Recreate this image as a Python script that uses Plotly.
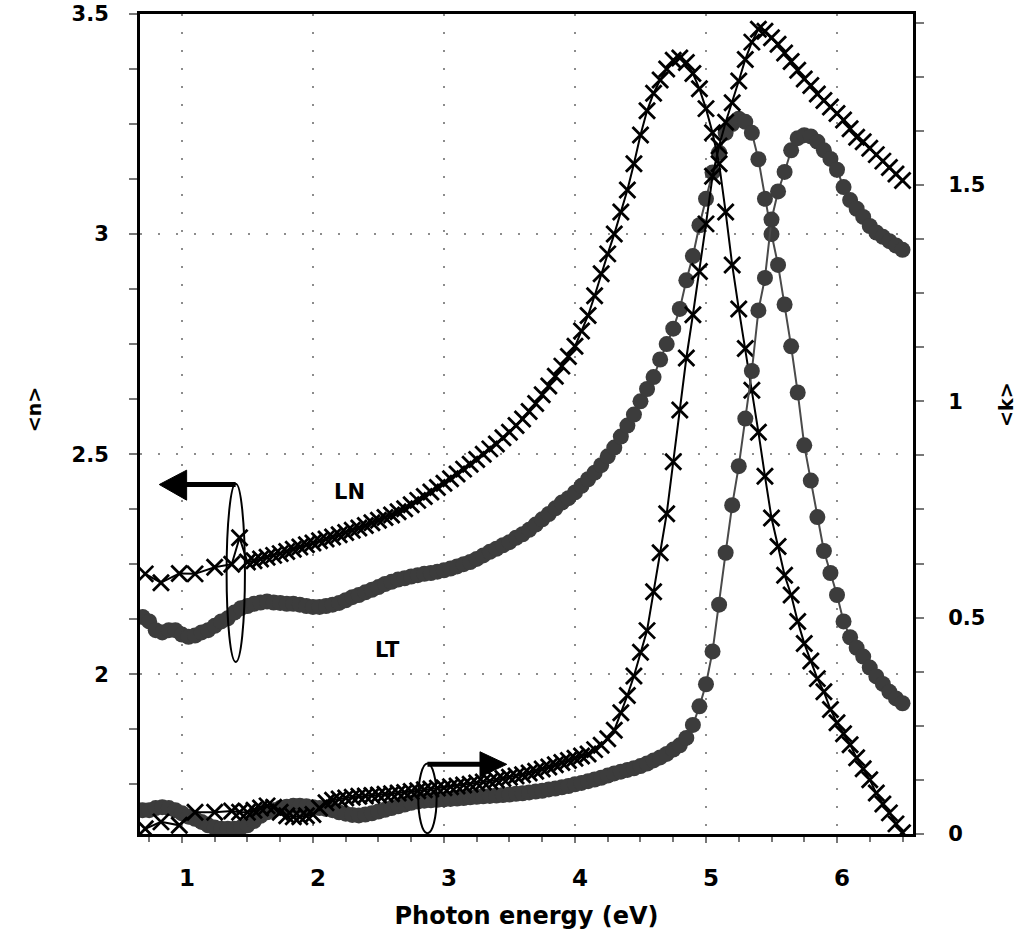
import plotly.graph_objects as go

# ---------------- data ----------------
# Photon energy grid for the LT film (eV)
E_LT = [0.70, 0.75, 0.80, 0.85, 0.90, 0.95, 1.00, 1.05, 1.10, 1.15,
        1.20, 1.25, 1.30, 1.35, 1.40, 1.45, 1.50, 1.55, 1.60, 1.65,
        1.70, 1.75, 1.80, 1.85, 1.90, 1.95, 2.00, 2.05, 2.10, 2.15,
        2.20, 2.25, 2.30, 2.35, 2.40, 2.45, 2.50, 2.55, 2.60, 2.65,
        2.70, 2.75, 2.80, 2.85, 2.90, 2.95, 3.00, 3.05, 3.10, 3.15,
        3.20, 3.25, 3.30, 3.35, 3.40, 3.45, 3.50, 3.55, 3.60, 3.65,
        3.70, 3.75, 3.80, 3.85, 3.90, 3.95, 4.00, 4.05, 4.10, 4.15,
        4.20, 4.25, 4.30, 4.35, 4.40, 4.45, 4.50, 4.55, 4.60, 4.65,
        4.70, 4.75, 4.80, 4.85, 4.90, 4.95, 5.00, 5.05, 5.10, 5.15,
        5.20, 5.25, 5.30, 5.35, 5.40, 5.45, 5.50, 5.55, 5.60, 5.65,
        5.70, 5.75, 5.80, 5.85, 5.90, 5.95, 6.00, 6.05, 6.10, 6.15,
        6.20, 6.25, 6.30, 6.35, 6.40, 6.45, 6.50]

n_LT = [2.130, 2.120, 2.100, 2.095, 2.100, 2.100, 2.090, 2.085, 2.088, 2.095,
        2.100, 2.110, 2.120, 2.127, 2.140, 2.150, 2.155, 2.160, 2.163, 2.165,
        2.163, 2.162, 2.160, 2.160, 2.158, 2.155, 2.153, 2.153, 2.155, 2.158,
        2.162, 2.168, 2.175, 2.180, 2.186, 2.192, 2.198, 2.205, 2.210, 2.215,
        2.218, 2.222, 2.225, 2.228, 2.230, 2.233, 2.236, 2.240, 2.245, 2.250,
        2.255, 2.262, 2.270, 2.278, 2.285, 2.293, 2.300, 2.310, 2.318, 2.328,
        2.340, 2.352, 2.364, 2.377, 2.390, 2.400, 2.413, 2.428, 2.443, 2.458,
        2.475, 2.495, 2.515, 2.540, 2.565, 2.590, 2.620, 2.648, 2.675, 2.715,
        2.750, 2.785, 2.830, 2.895, 2.950, 3.020, 3.080, 3.140, 3.185, 3.230,
        3.250, 3.262, 3.255, 3.230, 3.170, 3.080, 3.000, 2.930, 2.840, 2.745,
        2.640, 2.520, 2.440, 2.357, 2.280, 2.230, 2.180, 2.120, 2.084, 2.060,
        2.040, 2.015, 1.995, 1.978, 1.960, 1.945, 1.934]

k_LT = [0.055, 0.055, 0.060, 0.062, 0.060, 0.055, 0.048, 0.040, 0.035, 0.028,
        0.020, 0.015, 0.012, 0.012, 0.012, 0.015, 0.020, 0.030, 0.042, 0.050,
        0.055, 0.060, 0.063, 0.065, 0.065, 0.064, 0.062, 0.060, 0.058, 0.055,
        0.050, 0.047, 0.044, 0.043, 0.045, 0.048, 0.052, 0.056, 0.060, 0.064,
        0.068, 0.072, 0.075, 0.077, 0.078, 0.079, 0.080, 0.081, 0.082, 0.083,
        0.085, 0.086, 0.087, 0.088, 0.089, 0.090, 0.091, 0.093, 0.094, 0.096,
        0.098, 0.100, 0.103, 0.105, 0.108, 0.111, 0.115, 0.118, 0.122, 0.126,
        0.130, 0.135, 0.140, 0.144, 0.148, 0.152, 0.157, 0.163, 0.170, 0.177,
        0.185, 0.195, 0.205, 0.222, 0.252, 0.295, 0.346, 0.422, 0.530, 0.650,
        0.760, 0.850, 0.960, 1.070, 1.210, 1.285, 1.420, 1.485, 1.530, 1.580,
        1.608, 1.615, 1.612, 1.600, 1.580, 1.560, 1.535, 1.495, 1.465, 1.445,
        1.426, 1.405, 1.390, 1.380, 1.370, 1.360, 1.350]

# Photon energy grid for the LN film (eV)
E_LN = [0.72, 0.84, 0.98, 1.10, 1.25, 1.38, 1.44,
        1.50, 1.55, 1.60, 1.65, 1.70, 1.75, 1.80, 1.85, 1.90, 1.95,
        2.00, 2.05, 2.10, 2.15, 2.20, 2.25, 2.30, 2.35, 2.40, 2.45,
        2.50, 2.55, 2.60, 2.65, 2.70, 2.75, 2.80, 2.85, 2.90, 2.95,
        3.00, 3.05, 3.10, 3.15, 3.20, 3.25, 3.30, 3.35, 3.40, 3.45,
        3.50, 3.55, 3.60, 3.65, 3.70, 3.75, 3.80, 3.85, 3.90, 3.95,
        4.00, 4.05, 4.10, 4.15, 4.20, 4.25, 4.30, 4.35, 4.40, 4.45,
        4.50, 4.55, 4.60, 4.65, 4.70, 4.75, 4.80, 4.85, 4.90, 4.95,
        5.00, 5.05, 5.10, 5.15, 5.20, 5.25, 5.30, 5.35, 5.40, 5.45,
        5.50, 5.55, 5.60, 5.65, 5.70, 5.75, 5.80, 5.85, 5.90, 5.95,
        6.00, 6.05, 6.10, 6.15, 6.20, 6.25, 6.30, 6.35, 6.40, 6.45,
        6.50]

n_LN = [2.228, 2.208, 2.229, 2.228, 2.243, 2.250, 2.310,
        2.255, 2.258, 2.262, 2.266, 2.270, 2.274, 2.279, 2.284, 2.289, 2.294,
        2.298, 2.303, 2.307, 2.312, 2.317, 2.322, 2.327, 2.332, 2.338, 2.344,
        2.350, 2.356, 2.362, 2.369, 2.376, 2.385, 2.395, 2.404, 2.414, 2.424,
        2.434, 2.444, 2.455, 2.466, 2.477, 2.488, 2.500, 2.512, 2.523, 2.537,
        2.550, 2.565, 2.580, 2.597, 2.615, 2.635, 2.655, 2.677, 2.700, 2.722,
        2.745, 2.780, 2.815, 2.860, 2.910, 2.955, 3.000, 3.050, 3.100, 3.160,
        3.225, 3.280, 3.320, 3.350, 3.375, 3.395, 3.400, 3.390, 3.365, 3.330,
        3.285, 3.230, 3.160, 3.050, 2.930, 2.830, 2.740, 2.645, 2.550, 2.450,
        2.355, 2.290, 2.225, 2.180, 2.120, 2.070, 2.030, 1.990, 1.960, 1.920,
        1.890, 1.865, 1.840, 1.810, 1.785, 1.760, 1.730, 1.705, 1.685, 1.660,
        1.640]

k_LN = [0.012, 0.028, 0.020, 0.050, 0.050, 0.053, 0.050,
        0.050, 0.055, 0.060, 0.065, 0.062, 0.050, 0.042, 0.040, 0.040, 0.042,
        0.045, 0.060, 0.072, 0.078, 0.081, 0.083, 0.085, 0.087, 0.088, 0.089,
        0.090, 0.092, 0.093, 0.095, 0.096, 0.098, 0.100, 0.102, 0.104, 0.106,
        0.107, 0.109, 0.111, 0.113, 0.115, 0.118, 0.120, 0.122, 0.125, 0.128,
        0.131, 0.134, 0.137, 0.141, 0.145, 0.150, 0.155, 0.160, 0.165, 0.170,
        0.175, 0.180, 0.185, 0.195, 0.205, 0.220, 0.240, 0.280, 0.320, 0.365,
        0.420, 0.470, 0.560, 0.650, 0.740, 0.860, 0.980, 1.100, 1.200, 1.300,
        1.410, 1.520, 1.590, 1.645, 1.690, 1.740, 1.790, 1.830, 1.860, 1.855,
        1.840, 1.825, 1.805, 1.785, 1.765, 1.745, 1.730, 1.710, 1.695, 1.680,
        1.665, 1.650, 1.630, 1.610, 1.600, 1.585, 1.570, 1.555, 1.540, 1.525,
        1.510]

x_ticks = [1, 2, 3, 4, 5, 6]
n_ticks = [2, 2.5, 3, 3.5]
k_ticks = [0, 0.5, 1, 1.5]

# ---------------- styling ----------------
FONT = "DejaVu Sans"
DOT = "#3c3c3c"
GRID = "#8c8c8c"

fig = go.Figure()

fig.add_trace(go.Scatter(x=E_LT, y=n_LT, mode="lines+markers", yaxis="y",
                         line=dict(color="#4a4a4a", width=2),
                         marker=dict(symbol="circle", size=16, color=DOT, line=dict(width=0)),
                         name="LT <n>"))
fig.add_trace(go.Scatter(x=E_LT, y=k_LT, mode="lines+markers", yaxis="y2",
                         line=dict(color="#4a4a4a", width=2),
                         marker=dict(symbol="circle", size=16, color=DOT, line=dict(width=0)),
                         name="LT <k>"))
fig.add_trace(go.Scatter(x=E_LN, y=n_LN, mode="lines+markers", yaxis="y",
                         line=dict(color="black", width=2),
                         marker=dict(symbol="x-thin", size=16, color="black",
                                     line=dict(color="black", width=2.8)),
                         name="LN <n>"))
fig.add_trace(go.Scatter(x=E_LN, y=k_LN, mode="lines+markers", yaxis="y2",
                         line=dict(color="black", width=2),
                         marker=dict(symbol="x-thin", size=16, color="black",
                                     line=dict(color="black", width=2.8)),
                         name="LN <k>"))

tickfont_x = dict(family=FONT, size=23, color="black", weight="bold")
tickfont_y = dict(family=FONT, size=21, color="black", weight="bold")

fig.update_layout(
    width=1019, height=930,
    margin=dict(l=140, r=106, t=14, b=96, autoexpand=False),
    paper_bgcolor="white", plot_bgcolor="white",
    showlegend=False,
    xaxis=dict(range=[0.68, 6.58], tickvals=x_ticks, ticks="outside", ticklen=6,
               tickwidth=1.5, tickcolor="#777", tickfont=tickfont_x,
               ticklabelstandoff=15, ticklabelshift=5, automargin=False,
               showline=True, linewidth=3, linecolor="black", mirror=True,
               showgrid=True, gridcolor=GRID, gridwidth=2, griddash="2px,16px",
               zeroline=False,
               minor=dict(dtick=0.25, ticks="outside", ticklen=5, tickwidth=1.5,
                          tickcolor="#777", showgrid=False),
               title=dict(text="Photon energy (eV)",
                          font=dict(family=FONT, size=24, color="black", weight="bold"),
                          standoff=20)),
    yaxis=dict(range=[1.637, 3.5], tickvals=n_ticks, ticktext=["2", "2.5", "3", "3.5"],
               ticks="outside", ticklen=8, tickwidth=1.5, tickcolor="#777",
               tickfont=tickfont_y, ticklabelstandoff=16, automargin=False,
               showline=True, linewidth=3, linecolor="black",
               showgrid=True, gridcolor=GRID, gridwidth=2, griddash="2px,16px",
               zeroline=False,
               minor=dict(dtick=0.125, ticks="outside", ticklen=8, tickwidth=1.5,
                          tickcolor="#777", showgrid=False)),
    yaxis2=dict(range=[0, 1.895], tickvals=k_ticks, ticktext=["0", "0.5", "1", "1.5"],
                overlaying="y", side="right",
                ticks="outside", ticklen=8, tickwidth=1.5, tickcolor="#777",
                tickfont=tickfont_y, ticklabelstandoff=20, automargin=False,
                showline=True, linewidth=3, linecolor="black",
                showgrid=False, zeroline=False,
                minor=dict(dtick=0.125, ticks="outside", ticklen=8, tickwidth=1.5,
                           tickcolor="#777", showgrid=False)),
)

# axis titles and curve labels
lab = dict(family=FONT, size=21, color="black", weight="bold")
fig.add_annotation(text="&lt;n&gt;", xref="paper", yref="paper", x=-0.137, y=0.517,
                   xanchor="center", yanchor="middle",
                   textangle=-90, showarrow=False,
                   font=dict(family=FONT, size=19, color="black", weight="bold"))
fig.add_annotation(text="&lt;k&gt;", xref="paper", yref="paper", x=1.12, y=0.523,
                   xanchor="center", yanchor="middle",
                   textangle=-90, showarrow=False,
                   font=dict(family=FONT, size=19, color="black", weight="bold"))
fig.add_annotation(text="LN", x=2.282, y=2.414, xref="x", yref="y", showarrow=False, font=lab)
fig.add_annotation(text="LT", x=2.567, y=2.055, xref="x", yref="y", showarrow=False, font=lab)

# ellipses and arrows marking which axis each pair of curves uses
fig.add_shape(type="circle", xref="x", yref="y", x0=1.341, x1=1.481, y0=2.028, y1=2.433,
              line=dict(color="black", width=2))
fig.add_shape(type="line", xref="x", yref="y", x0=1.02, x1=1.41, y0=2.431, y1=2.431,
              line=dict(color="black", width=5))
fig.add_shape(type="path", xref="x", yref="y",
              path="M 0.827,2.431 L 1.036,2.4636 L 1.036,2.3955 Z",
              fillcolor="black", line=dict(color="black", width=1))

fig.add_shape(type="circle", xref="x", yref="y2", x0=2.804, x1=2.944, y0=0.002, y1=0.163,
              line=dict(color="black", width=2))
fig.add_shape(type="line", xref="x", yref="y2", x0=2.874, x1=3.29, y0=0.161, y1=0.161,
              line=dict(color="black", width=5))
fig.add_shape(type="path", xref="x", yref="y2",
              path="M 3.479,0.161 L 3.275,0.190 L 3.275,0.132 Z",
              fillcolor="black", line=dict(color="black", width=1))

fig.write_html("out.html")
